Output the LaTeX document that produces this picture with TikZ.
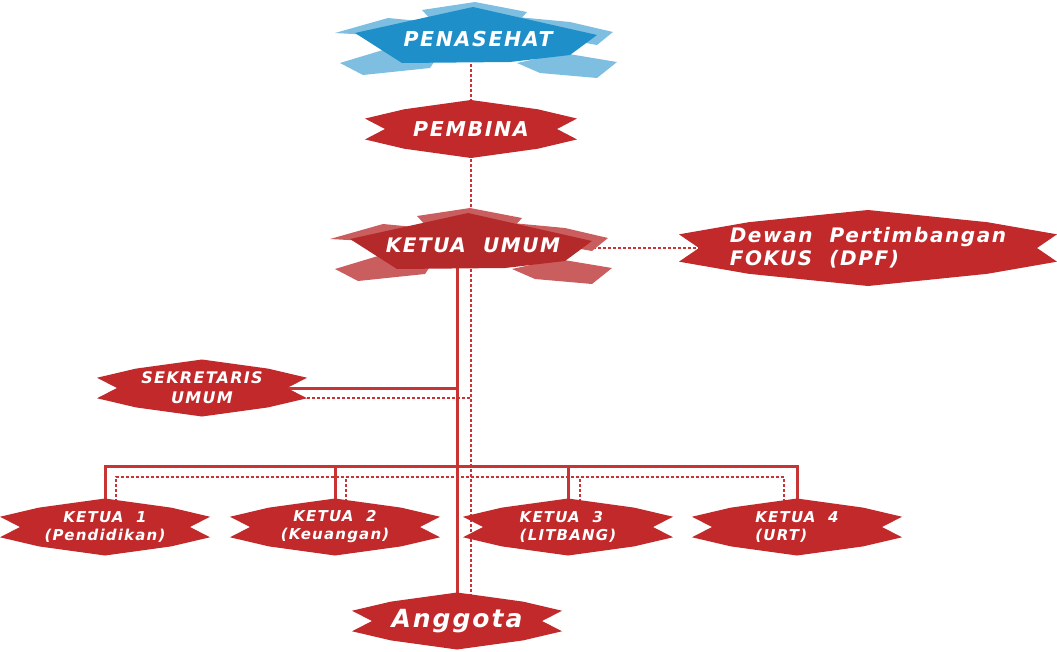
\documentclass[tikz,border=0pt]{standalone}
\usepackage{fontspec}
\setmainfont{DejaVu Sans}
\newfontfamily\orgfont{DejaVu Sans}[LetterSpace=8]
\usetikzlibrary{calc,backgrounds}
\definecolor{badgered}{RGB}{193,41,43}
\definecolor{linered}{RGB}{200,52,52}
\definecolor{pendark}{RGB}{30,143,200}
\definecolor{penlight}{RGB}{125,190,225}
\definecolor{kudark}{RGB}{180,42,42}
\definecolor{kulight}{RGB}{202,94,94}
% layered wings behind a node: node, light colour, dark colour
\newcommand\layered[3]{%
  \begin{scope}[shift={(#1.center)}]
    \fill[#2] (-56,-29) -- (-3,-37) -- (49,-27) -- (40,-17) -- (-45,-17) -- cycle;
    \fill[#2] (-143,-6) -- (-90,-21) -- (-38,-16) -- (-71,-2) -- cycle;
    \fill[#2] (-138,24) -- (-115,36) -- (-48,29) -- (-38,14) -- (-95,11) -- cycle;
    \fill[#2] (39,-22) -- (92,-17) -- (135,-7) -- (119,6) -- (52,-6) -- cycle;
    \fill[#2] (39,24) -- (62,34) -- (119,39) -- (139,23) -- (85,14) -- cycle;
    \fill[#3] (-123,-6) -- (-5,-32) -- (119,-4) -- (92,16) -- (32,23) -- (-76,24) -- cycle;
  \end{scope}}
\begin{document}
\begin{tikzpicture}[x=1pt, y=-1pt,
    badge/.style 2 args={minimum width=#1, minimum height=#2, inner sep=0pt, text=white, align=center,
      path picture={\fill[badgered] let \p1=(path picture bounding box.center),
        \p2=(path picture bounding box.north east), \n1={\x2-\x1}, \n2={\y2-\y1} in
        (\x1,\y2) -- (\x1+0.63*\n1,\y1+0.68*\n2) -- (\x2,\y1+0.36*\n2) -- (\x2-20pt,\y1)
        -- (\x2,\y1-0.36*\n2) -- (\x1+0.63*\n1,\y1-0.68*\n2) -- (\x1,\y1-\n2)
        -- (\x1-0.63*\n1,\y1-0.68*\n2) -- (\x1-\n1,\y1-0.36*\n2) -- (\x1-\n1+20pt,\y1)
        -- (\x1-\n1,\y1+0.36*\n2) -- (\x1-0.63*\n1,\y1+0.68*\n2) -- cycle;}},
    layer/.style={minimum width=242, minimum height=56, inner sep=0pt, text=white},
    big/.style={font=\orgfont\bfseries\itshape\fontsize{20.5}{22}\selectfont},
    mid/.style={font=\orgfont\bfseries\itshape\fontsize{16}{20}\selectfont},
    small/.style={font=\orgfont\bfseries\itshape\fontsize{15}{18}\selectfont},
    conn/.style={draw=linered, line width=3pt},
    dotconn/.style={draw=linered, line width=2.6pt, dash pattern=on 2.6pt off 2.4pt}]
    \useasboundingbox (0,0) rectangle (1057,651);

    \node[layer, big] (pen) at (478,39) {PENASEHAT};
    \node[badge={212}{58}, big] (pem) at (471,129) {PEMBINA};
    \node[layer, big, font=\orgfont\bfseries\itshape\fontsize{20}{22}\selectfont] (ku) at (473,245) {KETUA\ \ UMUM};
    \node[badge={378}{76}, align=left, font=\orgfont\bfseries\itshape\fontsize{20}{23}\selectfont] (dpf) at (868,248) {Dewan\ \ Pertimbangan\\FOKUS\ \ (DPF)};
    \node[badge={210}{57}, mid] (sek) at (202,388) {SEKRETARIS\\UMUM};
    \node[badge={210}{57}, small] (k1) at (105,527) {KETUA\ \ 1\\(Pendidikan)};
    \node[badge={210}{57}, small] (k2) at (335,527) {KETUA\ \ 2\\(Keuangan)};
    \node[badge={210}{57}, small, align=left] (k3) at (568,527) {KETUA\ \ 3\\(LITBANG)};
    \node[badge={210}{57}, small, align=left] (k4) at (797,527) {KETUA\ \ 4\\(URT)};
    \node[badge={210}{57}, font=\orgfont\bfseries\itshape\fontsize{25}{28}\selectfont] (ang) at (457,621) {Anggota};

    \coordinate (bus) at (457,466);
    \coordinate (dbus) at (470,477);
    \coordinate (sd) at ([yshift=-10pt]sek.center);

    \begin{scope}[on background layer]
        \draw[dotconn] (pen.center -| pem.center) -- (pem.center) -- (ang.center -| pem.center);
        \draw[dotconn] (dpf.center -| ku.center) -- (dpf.center);
        \draw[conn] (ang.center |- ku.center) -- (ang.center);
        \draw[conn] (sek.center) -- (sek.center -| ang.center);
        \draw[dotconn] (sd) -- (sd -| pem.center);
        \draw[conn] (k1.center) |- (bus) -| (k4.center);
        \draw[conn] (k2.center) -- (k2.center |- bus);
        \draw[conn] (k3.center) -- (k3.center |- bus);
        \draw[dotconn] ([xshift=11pt]k1.center) |- (dbus) -| ([xshift=-13pt]k4.center);
        \foreach \k/\dx in {k2/11pt, k3/12pt}
            \draw[dotconn] ([xshift=\dx]\k.center) -- ++(0,-50);
        \layered{pen}{penlight}{pendark}
        \layered{ku}{kulight}{kudark}
    \end{scope}
\end{tikzpicture}
\end{document}
